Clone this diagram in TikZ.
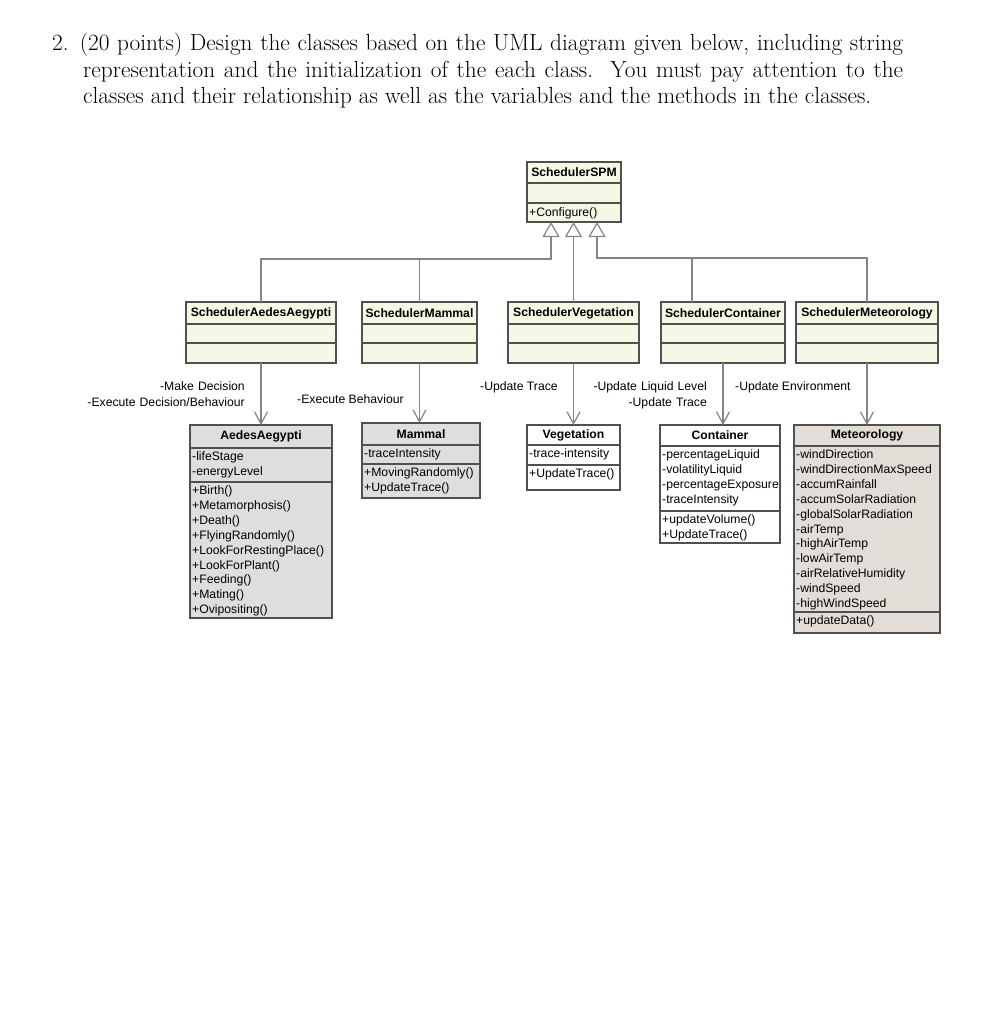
\documentclass[tikz,border=0pt]{standalone}
\usepackage{fontspec}
\setsansfont{Liberation Sans}
\usetikzlibrary{arrows.meta}

\definecolor{cream}{HTML}{F7F7E6}
\definecolor{clsgray}{HTML}{DEDEDE}
\definecolor{meteo}{HTML}{E3DDD8}
\definecolor{edge}{HTML}{505050}
\definecolor{wiregray}{HTML}{858585}

\tikzset{
  box/.style={draw=edge, line width=1.1pt, inner sep=0pt, outer sep=0pt, anchor=north west},
  sep/.style={draw=edge, line width=1.1pt},
  head/.style={font=\sffamily\bfseries\fontsize{12.2}{14}\selectfont, inner sep=0pt},
  member/.style={font=\sffamily\fontsize{12.2}{14.9}\selectfont, text width=150pt, align=left, inner sep=0pt, anchor=base west},
  note/.style={font=\sffamily\fontsize{12.2}{16}\selectfont, inner sep=0pt},
  wire/.style={draw=wiregray, line width=1.2pt},
  inherit/.style={wire, -{Triangle[open, length=15pt, width=17pt]}},
  call/.style={wire, -{Straight Barb[length=12pt, width=13pt]}},
  task/.style={font=\fontsize{23.3}{26.5}\selectfont, inner sep=0pt, anchor=base west},
}

\begin{document}
\begin{tikzpicture}[x=1pt, y=-1pt]
\useasboundingbox (0,0) rectangle (1004,1024);
\fill[white] (0,0) rectangle (1004,1024);

% task text
\node[task] (task1) at (52,51) {\makebox[851pt][s]{2. (20 points) Design the classes based on the UML diagram given below, including string}};
\node[task] (task2) at (83,77.5) {\makebox[820pt][s]{representation and the initialization of the each class.\ \ You must pay attention to the}};
\node[task] (task3) at (83,104) {classes and their relationship as well as the variables and the methods in the classes.};

% top class
\node[box, fill=cream, minimum width=94, minimum height=60] (spm) at (527,162) {};
\draw[sep] ([yshift=-21]spm.north west) -- ([yshift=-21]spm.north east);
\draw[sep] ([yshift=-41]spm.north west) -- ([yshift=-41]spm.north east);
\node[head] (spmName) at ([yshift=-10.5]spm.north) {SchedulerSPM};
\node[member] (spmOps) at (529,216.5) {+Configure()};

% schedulers
\node[box, fill=cream, minimum width=150, minimum height=61] (sAedes) at (186,302) {};
\node[box, fill=cream, minimum width=115, minimum height=61] (sMammal) at (362,302) {};
\node[box, fill=cream, minimum width=131, minimum height=61] (sVeg) at (508,302) {};
\node[box, fill=cream, minimum width=124, minimum height=61] (sCont) at (661,302) {};
\node[box, fill=cream, minimum width=142, minimum height=61] (sMeteo) at (796,302) {};
\foreach \s in {sAedes,sMammal,sVeg,sCont,sMeteo} {
  \draw[sep] ([yshift=-22]\s.north west) -- ([yshift=-22]\s.north east);
  \draw[sep] ([yshift=-41]\s.north west) -- ([yshift=-41]\s.north east);
}
\node[head] (sAedesName) at ([yshift=-11]sAedes.north) {SchedulerAedesAegypti};
\node[head] (sMammalName) at ([yshift=-11]sMammal.north) {SchedulerMammal};
\node[head] (sVegName) at ([yshift=-11]sVeg.north) {SchedulerVegetation};
\node[head] (sContName) at ([yshift=-11]sCont.north) {SchedulerContainer};
\node[head] (sMeteoName) at ([yshift=-11]sMeteo.north) {SchedulerMeteorology};

% AedesAegypti
\node[box, fill=clsgray, minimum width=142, minimum height=193] (cAedes) at (190,425) {};
\draw[sep] ([yshift=-23]cAedes.north west) -- ([yshift=-23]cAedes.north east);
\draw[sep] ([yshift=-57]cAedes.north west) -- ([yshift=-57]cAedes.north east);
\node[head] (cAedesName) at ([yshift=-11.5]cAedes.north) {AedesAegypti};
\node[member] (cAedesAttr) at (192,460.5) {-lifeStage\\-energyLevel};
\node[member] (cAedesOps) at (192,494.5) {+Birth()\\+Metamorphosis()\\+Death()\\+FlyingRandomly()\\+LookForRestingPlace()\\+LookForPlant()\\+Feeding()\\+Mating()\\+Ovipositing()};

% Mammal
\node[box, fill=clsgray, minimum width=118, minimum height=75] (cMammal) at (362,423) {};
\draw[sep] ([yshift=-22]cMammal.north west) -- ([yshift=-22]cMammal.north east);
\draw[sep] ([yshift=-41]cMammal.north west) -- ([yshift=-41]cMammal.north east);
\node[head] (cMammalName) at ([yshift=-11]cMammal.north) {Mammal};
\node[member] (cMammalAttr) at (364,457.5) {-traceIntensity};
\node[member] (cMammalOps) at (364,476.5) {+MovingRandomly()\\+UpdateTrace()};

% Vegetation
\node[box, fill=white, minimum width=93, minimum height=65] (cVeg) at (527,425) {};
\draw[sep] ([yshift=-20]cVeg.north west) -- ([yshift=-20]cVeg.north east);
\draw[sep] ([yshift=-40]cVeg.north west) -- ([yshift=-40]cVeg.north east);
\node[head] (cVegName) at ([yshift=-10]cVeg.north) {Vegetation};
\node[member] (cVegAttr) at (529,457.5) {-trace-intensity};
\node[member] (cVegOps) at (529,477.5) {+UpdateTrace()};

% Container
\node[box, fill=white, minimum width=120, minimum height=118] (cCont) at (660,425) {};
\draw[sep] ([yshift=-21]cCont.north west) -- ([yshift=-21]cCont.north east);
\draw[sep] ([yshift=-86]cCont.north west) -- ([yshift=-86]cCont.north east);
\node[head] (cContName) at ([yshift=-10.5]cCont.north) {Container};
\node[member] (cContAttr) at (662,458.5) {-percentageLiquid\\-volatilityLiquid\\-percentageExposure\\-traceIntensity};
\node[member] (cContOps) at (662,523.5) {+updateVolume()\\+UpdateTrace()};

% Meteorology
\node[box, fill=meteo, minimum width=146, minimum height=208] (cMeteo) at (794,425) {};
\draw[sep] ([yshift=-21]cMeteo.north west) -- ([yshift=-21]cMeteo.north east);
\draw[sep] ([yshift=-187]cMeteo.north west) -- ([yshift=-187]cMeteo.north east);
\node[head] (cMeteoName) at ([yshift=-10.5]cMeteo.north) {Meteorology};
\node[member] (cMeteoAttr) at (796,458.5) {-windDirection\\-windDirectionMaxSpeed\\-accumRainfall\\-accumSolarRadiation\\-globalSolarRadiation\\-airTemp\\-highAirTemp\\-lowAirTemp\\-airRelativeHumidity\\-windSpeed\\-highWindSpeed};
\node[member] (cMeteoOps) at (796,624.5) {+updateData()};

% generalisation
\coordinate (splitL) at ([xshift=-23,yshift=-37]spm.south);
\coordinate (splitR) at ([xshift=23,yshift=-36]spm.south);
\draw[inherit] (sAedes.north) |- (splitL) -- ([xshift=-23]spm.south);
\draw[wire] (sMammal.north) -- (sMammal.north |- splitL);
\draw[inherit] (sVeg.north) -- (sVeg.north |- spm.south);
\draw[inherit] (sMeteo.north) |- (splitR) -- ([xshift=23]spm.south);
\draw[wire] ([xshift=-31]sCont.north) -- ([xshift=-31]sCont.north |- splitR);

% scheduler -> class
\draw[call] (sAedes.south) -- (sAedes.south |- cAedes.north);
\draw[call] (sMammal.south) -- (sMammal.south |- cMammal.north);
\draw[call] (sVeg.south) -- (sVeg.south |- cVeg.north);
\draw[call] (sCont.south) -- (sCont.south |- cCont.north);
\draw[call] (sMeteo.south) -- (sMeteo.south |- cMeteo.north);

% labels
\node[note, text width=170pt, align=right, anchor=base east] (aedesNote) at (245,390.5) {-Make Decision\\-Execute Decision/Behaviour};
\node[note, anchor=base west] (mammalNote) at (297,403.5) {-Execute Behaviour};
\node[note, anchor=base west] (vegNote) at (480,390.5) {-Update Trace};
\node[note, text width=130pt, align=right, anchor=base east] (contNote) at (707,390.5) {-Update Liquid Level\\-Update Trace};
\node[note, anchor=base west] (meteoNote) at (735,390.5) {-Update Environment};
\end{tikzpicture}
\end{document}
